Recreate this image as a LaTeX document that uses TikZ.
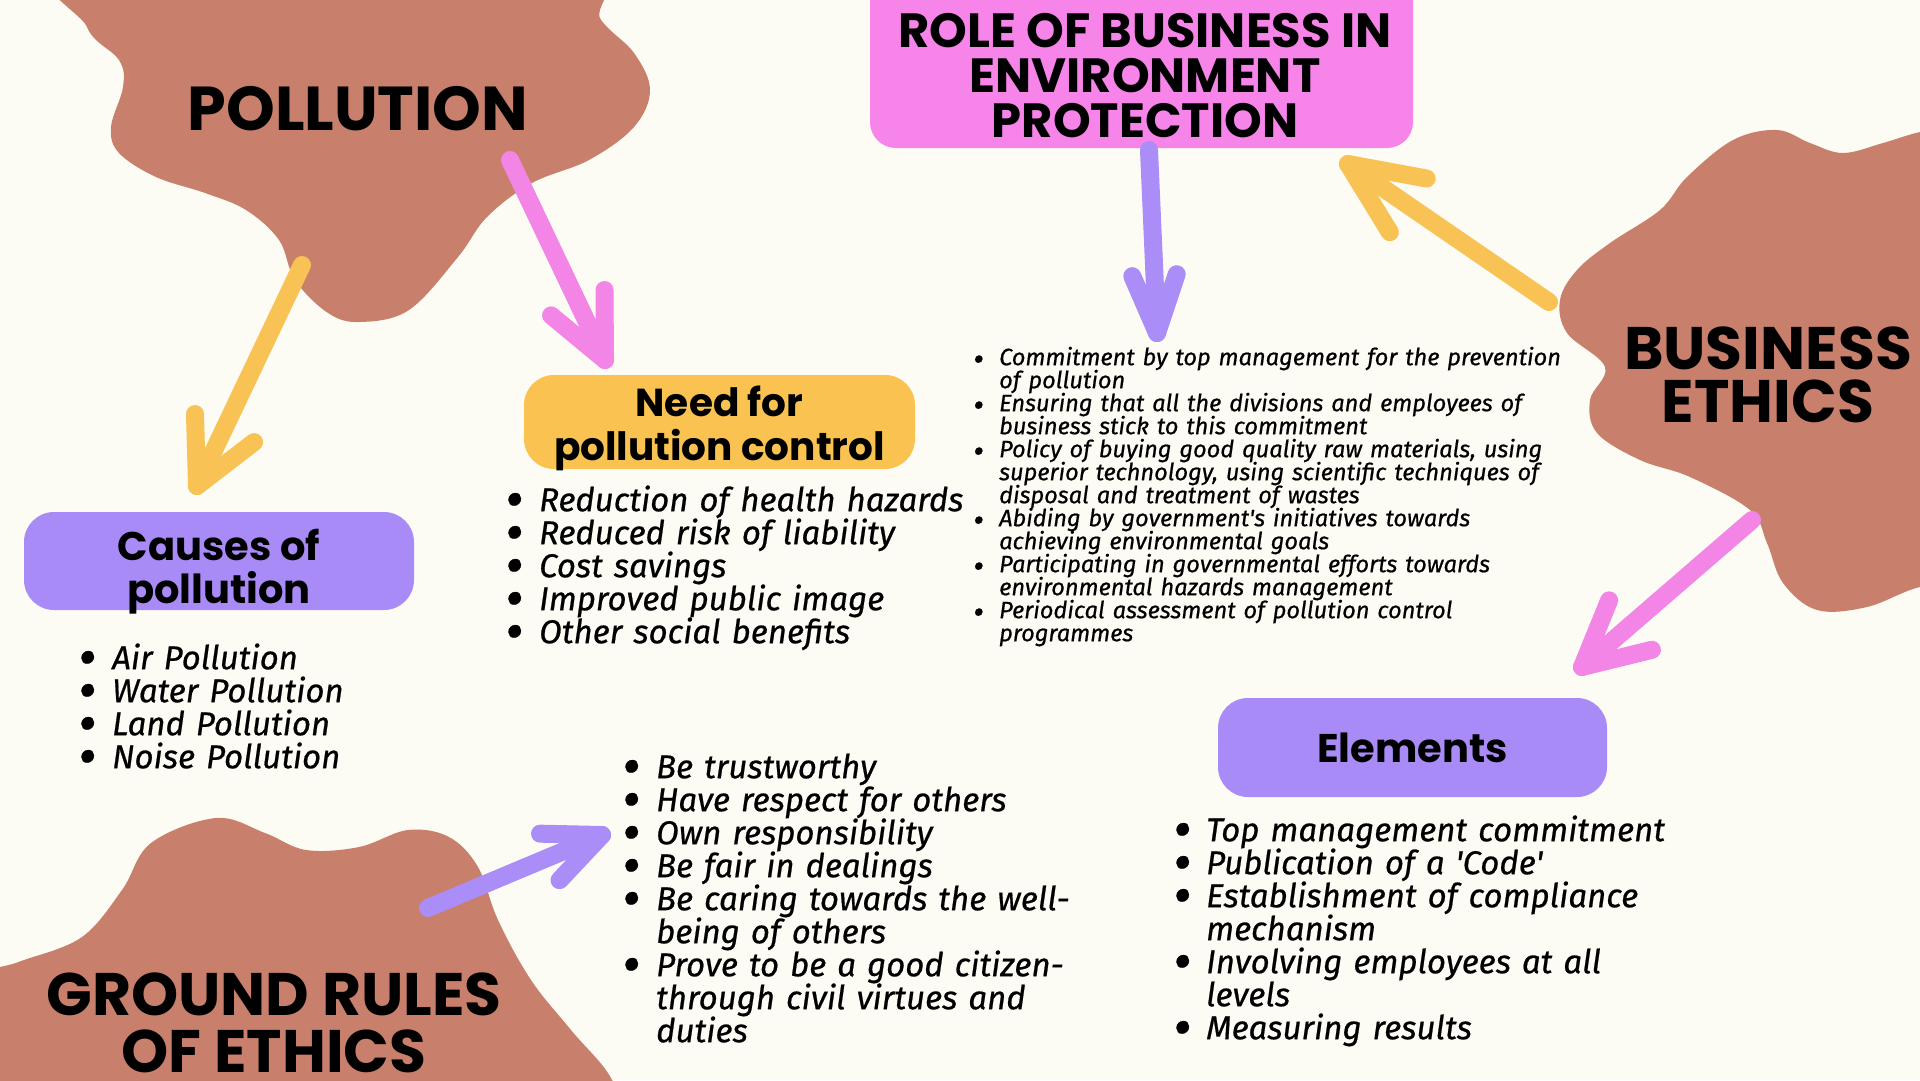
\documentclass[tikz,border=0pt]{standalone}
\usepackage{fontspec}
\usepackage{graphicx}
\usetikzlibrary{calc}
\newfontfamily\titlefont{Poppins}
\newfontfamily\listfont{Fira Sans}[ItalicFeatures={FakeBold=0.6}]
\definecolor{bg}{HTML}{FDFCF4}
\definecolor{blobc}{HTML}{C8806C}
\definecolor{pinkc}{HTML}{F785E9}
\definecolor{orangec}{HTML}{F9C251}
\definecolor{purplec}{HTML}{A98BF7}
\definecolor{yarrow}{HTML}{F8C254}
\definecolor{parrow}{HTML}{F285E6}
\definecolor{varrow}{HTML}{AA8DF6}
\newlength\bulletw
\newcommand\bulscale{1.7}
\newcommand\liststart[1]{\lineskiplimit=-100pt\relax\setlength\bulletw{#1}}
\newcommand\bitem[1]{\par\noindent\hangindent=\bulletw\hangafter=1\makebox[\bulletw][l]{\raisebox{-0.22em}{\scalebox{\bulscale}{\textbullet}}}#1}
\begin{document}
\begin{tikzpicture}[x=1pt,y=-1pt,
  blobtitle/.style={font=\titlefont\bfseries, align=center, inner sep=0pt, text=black},
  boxshape/.style={rounded corners=30pt, inner sep=0pt},
  boxtitle/.style={inner sep=0pt, align=center, font=\titlefont\bfseries\fontsize{39}{44}\selectfont},
  listnode/.style={anchor=north west, inner sep=0pt, align=left, font=\listfont\itshape\fontsize{33}{33}\selectfont},
  rolelistnode/.style={anchor=north west, inner sep=0pt, align=left, font=\listfont\itshape\fontsize{23.6}{23}\selectfont},
  arr/.style={line width=18pt, line cap=round, line join=round}]
\useasboundingbox (0,0) rectangle (1920,1080);
\fill[bg] (0,0) rectangle (1920,1080);

% blobs
\fill[blobc] plot[smooth cycle, tension=0.6] coordinates {(80,-40) (87,27) (119,60) (123,87) (111,127) (119,153) (156,177) (205,193) (246,210) (279,240) (295,280) (328,313) (360,322) (409,310) (458,257) (487,217) (532,183) (589,160) (634,127) (650,90) (634,53) (601,20) (560,-40)};
\fill[blobc] plot[smooth cycle, tension=0.6] coordinates {(1980,120) (1920,132) (1883,143) (1843,153) (1810,143) (1777,130) (1733,140) (1687,177) (1660,210) (1610,243) (1577,270) (1560,300) (1567,333) (1605,367) (1590,400) (1597,433) (1640,460) (1690,477) (1750,510) (1767,543) (1783,583) (1817,610) (1867,607) (1920,587) (1980,580)};
\fill[blobc] plot[smooth cycle, tension=0.6] coordinates {(-40,975) (0,967) (24,960) (82,937) (122,890) (151,843) (216,818) (265,833) (306,850) (359,847) (408,830) (449,837) (478,867) (498,920) (531,980) (571,1030) (612,1080) (620,1130) (-40,1130)};

% boxes
\node[fill=pinkc, rounded corners=26pt, minimum width=543pt, minimum height=200pt, inner sep=0pt] (rolebox) at (1141.5,48) {};
\node[blobtitle, font=\titlefont\bfseries\fontsize{48}{45}\selectfont] (role) at (1145,76) {ROLE OF BUSINESS IN\\ENVIRONMENT\\PROTECTION};
\node[boxshape, fill=orangec, minimum width=391pt, minimum height=94pt] (needbox) at (719.5,422) {};
\node[boxtitle] (need) at (719.5,428) {Need for\\pollution control};
\node[boxshape, fill=purplec, minimum width=390pt, minimum height=98pt] (causesbox) at (219,561) {};
\node[boxtitle, font=\titlefont\bfseries\fontsize{40}{43}\selectfont] (causes) at (219,572) {Causes of\\pollution};
\node[boxshape, fill=purplec, minimum width=389pt, minimum height=99pt] (elementsbox) at (1412.5,747.5) {};
\node[boxtitle, font=\titlefont\bfseries\fontsize{40}{43}\selectfont] (elements) at (1412.5,747.5) {Elements};

% blob titles
\node[blobtitle, font=\titlefont\bfseries\fontsize{62}{62}\selectfont] (pollution) at (358,109) {POLLUTION};
\node[blobtitle, font=\titlefont\bfseries\fontsize{60}{53}\selectfont] (busethics) at (1768,375) {BUSINESS\\ETHICS};
\node[blobtitle, font=\titlefont\bfseries\fontsize{60}{57}\selectfont] (groundrules) at (274,1023) {GROUND RULES\\OF ETHICS};

% arrows
\coordinate (s1) at (302,265); \coordinate (t1) at (197,486);
\coordinate (s2) at (510,160); \coordinate (t2) at (605,360);
\coordinate (s3) at (1149,150); \coordinate (t3) at (1157,333);
\coordinate (s4) at (1549,302); \coordinate (t4) at (1348,164);
\coordinate (s5) at (1752,520); \coordinate (t5) at (1582,667);
\coordinate (s6) at (428,908); \coordinate (t6) at (602,835);
\draw[arr, yarrow] (s1) -- (t1);
\draw[arr, yarrow] ($(t1)!72pt!27:(s1)$) -- (t1) -- ($(t1)!72pt!-27:(s1)$);
\draw[arr, parrow] (s2) -- (t2);
\draw[arr, parrow] ($(t2)!70pt!25:(s2)$) -- (t2) -- ($(t2)!70pt!-25:(s2)$);
\draw[arr, varrow] (s3) -- (t3);
\draw[arr, varrow] ($(t3)!62pt!21:(s3)$) -- (t3) -- ($(t3)!62pt!-21:(s3)$);
\draw[arr, yarrow] (s4) -- (t4);
\draw[arr, yarrow] ($(t4)!80pt!24:(s4)$) -- (t4) -- ($(t4)!80pt!-24:(s4)$);
\draw[arr, parrow] (s5) -- (t5);
\draw[arr, parrow] ($(t5)!72pt!27:(s5)$) -- (t5) -- ($(t5)!72pt!-27:(s5)$);
\draw[arr, varrow] (s6) -- (t6);
\draw[arr, varrow] ($(t6)!62pt!24:(s6)$) -- (t6) -- ($(t6)!62pt!-24:(s6)$);

% lists
\node[listnode, text width=340pt] (causeslist) at (78,636) {\liststart{34pt}%
\bitem{Air Pollution}\bitem{Water Pollution}\bitem{Land Pollution}\bitem{Noise Pollution}\par};
\node[listnode, text width=500pt] (needlist) at (505,478) {\liststart{34pt}%
\bitem{Reduction of health hazards}\bitem{Reduced risk of liability}\bitem{Cost savings}\bitem{Improved public image}\bitem{Other social benefits}\par};
\node[rolelistnode, text width=660pt] (rolelist) at (973,342) {\renewcommand\bulscale{1.4}\liststart{26pt}%
\bitem{Commitment by top management for the prevention\newline of pollution}%
\bitem{Ensuring that all the divisions and employees of\newline business stick to this commitment}%
\bitem{Policy of buying good quality raw materials, using\newline superior technology, using scientific techniques of\newline disposal and treatment of wastes}%
\bitem{Abiding by government\textquotesingle s initiatives towards\newline achieving environmental goals}%
\bitem{Participating in governmental efforts towards\newline environmental hazards management}%
\bitem{Periodical assessment of pollution control\newline programmes}\par};
\node[listnode, text width=500pt] (groundlist) at (622,745) {\liststart{34pt}%
\bitem{Be trustworthy}\bitem{Have respect for others}\bitem{Own responsibility}\bitem{Be fair in dealings}%
\bitem{Be caring towards the well-\newline being of others}%
\bitem{Prove to be a good citizen-\newline through civil virtues and\newline duties}\par};
\node[listnode, text width=540pt] (elemlist) at (1173,808) {\liststart{33pt}%
\bitem{Top management commitment}\bitem{Publication of a \textquotesingle Code\textquotesingle}%
\bitem{Establishment of compliance\newline mechanism}%
\bitem{Involving employees at all\newline levels}%
\bitem{Measuring results}\par};
\end{tikzpicture}
\end{document}
